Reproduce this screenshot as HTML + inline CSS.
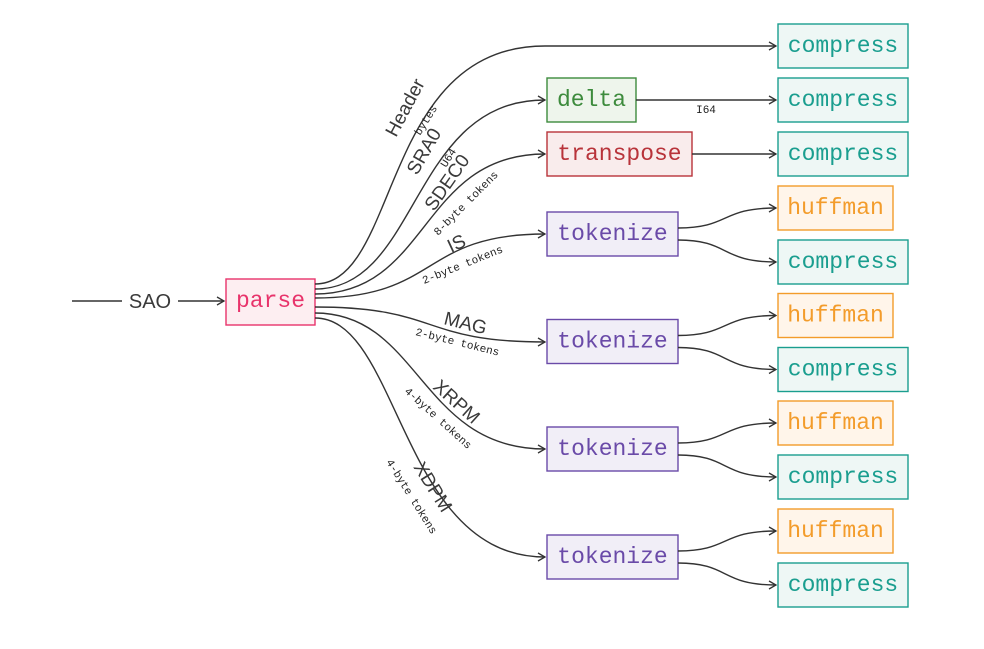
<!DOCTYPE html>
<html><head><meta charset="utf-8"><style>
html,body{margin:0;padding:0;background:#fff;}
svg{display:block}
.m{font-family:"Liberation Mono",monospace;font-size:23px;}
.s{font-family:"Liberation Sans",sans-serif;font-size:19px;fill:#3a3a3a;}
.t{font-family:"Liberation Mono",monospace;font-size:11px;fill:#222;}
path.c{fill:none;stroke:#333;stroke-width:1.4;}
</style></head><body>
<svg width="984" height="649" viewBox="0 0 984 649" xmlns="http://www.w3.org/2000/svg">
<defs><marker id="a" markerWidth="10" markerHeight="10" refX="8" refY="5" orient="auto" markerUnits="userSpaceOnUse"><path d="M1,1 L8,5 L1,9" fill="none" stroke="#333" stroke-width="1.3"/></marker></defs>
<path class="c" d="M72,301 L122,301"/>
<text class="s" x="150" y="308" text-anchor="middle" style="font-size:20px">SAO</text>
<path class="c" d="M178,301 L224,301" marker-end="url(#a)"/>
<rect x="226" y="279" width="89" height="46" fill="#fdeef1" stroke="#e8336b" stroke-width="1.4"/>
<text class="m" x="270.5" y="307" text-anchor="middle" fill="#e8336b">parse</text>

<path class="c" d="M315,284 C400,284 380,46 545,46 L776,46" marker-end="url(#a)"/>
<path class="c" d="M315,289 C420,289 410,100 545,100" marker-end="url(#a)"/>
<path class="c" d="M315,294 C430,294 420,154 545,154" marker-end="url(#a)"/>
<path class="c" d="M315,298 C440,298 420,234 545,234" marker-end="url(#a)"/>
<path class="c" d="M315,307 C440,307 420,342 545,342" marker-end="url(#a)"/>
<path class="c" d="M315,313 C420,313 420,449 545,449" marker-end="url(#a)"/>
<path class="c" d="M315,318 C400,318 400,557 545,557" marker-end="url(#a)"/>

<text class="s" transform="translate(396,138) rotate(-62)">Header</text>
<text class="t" transform="translate(420,136) rotate(-58)">bytes</text>
<text class="s" transform="translate(417,176) rotate(-60)">SRA0</text>
<text class="t" transform="translate(446,168) rotate(-58)">U64</text>
<text class="s" transform="translate(434,212) rotate(-55)">SDEC0</text>
<text class="t" transform="translate(438,236) rotate(-45)">8-byte tokens</text>
<text class="s" transform="translate(451,253) rotate(-25)">IS</text>
<text class="t" transform="translate(424,284) rotate(-22)">2-byte tokens</text>
<text class="s" transform="translate(443,324) rotate(14)">MAG</text>
<text class="t" transform="translate(415,335) rotate(14)">2-byte tokens</text>
<text class="s" transform="translate(432,388) rotate(42)">XRPM</text>
<text class="t" transform="translate(404,392) rotate(42)">4-byte tokens</text>
<text class="s" transform="translate(413,467) rotate(58)">XDPM</text>
<text class="t" transform="translate(386,462) rotate(58)">4-byte tokens</text>

<rect x="547" y="78" width="89" height="44" fill="#eef5ec" stroke="#3d8b3d" stroke-width="1.4"/>
<text class="m" x="591.5" y="106" text-anchor="middle" fill="#3d8b3d">delta</text>
<rect x="547" y="132" width="145" height="44" fill="#f9ecec" stroke="#b8333a" stroke-width="1.4"/>
<text class="m" x="619.5" y="160" text-anchor="middle" fill="#b8333a">transpose</text>
<path class="c" d="M636,100 L776,100" marker-end="url(#a)"/>
<text class="t" x="706" y="113" text-anchor="middle">I64</text>
<path class="c" d="M692,154 L776,154" marker-end="url(#a)"/>

<g id="tk">
<rect x="547" y="212" width="131" height="44" fill="#f1eef7" stroke="#6a4aa8" stroke-width="1.4"/>
<text class="m" x="612.5" y="240" text-anchor="middle" fill="#6a4aa8">tokenize</text>
<path class="c" d="M678,228 C730,228 720,208 776,208" marker-end="url(#a)"/>
<path class="c" d="M678,240 C730,240 720,262 776,262" marker-end="url(#a)"/>
<rect x="778" y="186" width="115" height="44" fill="#fff5ea" stroke="#f39c2b" stroke-width="1.4"/>
<text class="m" x="835.5" y="214" text-anchor="middle" fill="#f39c2b">huffman</text>
<rect x="778" y="240" width="130" height="44" fill="#eef7f5" stroke="#1a9e8f" stroke-width="1.4"/>
<text class="m" x="843" y="268" text-anchor="middle" fill="#1a9e8f">compress</text>
</g>
<use href="#tk" y="107.5"/>
<use href="#tk" y="215"/>
<use href="#tk" y="323"/>

<g fill="#eef7f5" stroke="#1a9e8f" stroke-width="1.4">
<rect x="778" y="24" width="130" height="44"/>
<rect x="778" y="78" width="130" height="44"/>
<rect x="778" y="132" width="130" height="44"/>
</g>
<g class="m" fill="#1a9e8f" text-anchor="middle">
<text x="843" y="52">compress</text>
<text x="843" y="106">compress</text>
<text x="843" y="160">compress</text>
</g>
</svg>
</body></html>
